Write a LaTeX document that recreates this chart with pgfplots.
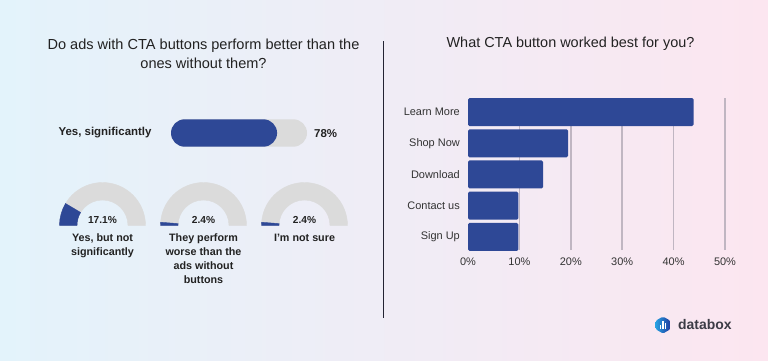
\documentclass[border=0pt]{standalone}
\usepackage{pgfplots}
\pgfplotsset{compat=1.18}
\usepackage{fontspec}
\setmainfont{Liberation Sans}
\definecolor{bgL}{RGB}{227,243,251}
\definecolor{bgR}{RGB}{252,230,240}
\definecolor{barblue}{RGB}{46,72,150}
\definecolor{trackgray}{RGB}{219,219,219}
\definecolor{gridc}{RGB}{192,182,194}
\definecolor{txt}{RGB}{34,34,34}
\definecolor{lbl}{RGB}{51,51,51}
\definecolor{divc}{RGB}{35,35,50}
\definecolor{logoA}{RGB}{40,160,225}
\definecolor{logoB}{RGB}{30,60,160}
\definecolor{logotxt}{RGB}{60,60,70}
\begin{document}
\begin{tikzpicture}
\shade[left color=bgL, right color=bgR] (0bp,0bp) rectangle (768bp,-361bp);
\draw[line width=1bp, divc] (383.5bp,-41bp) -- (383.5bp,-318bp);
% titles
\node[font=\fontsize{14.6}{19.3}\selectfont, color=txt, align=center] at (203.5bp,-53.7bp) {Do ads with CTA buttons perform better than the\\ones without them?};
\node[font=\fontsize{14.5}{19.3}\selectfont, color=txt] at (570.5bp,-43.5bp) {What CTA button worked best for you?};
% progress bar
\begin{axis}[at={(171bp,-133bp)}, anchor=west, scale only axis, width=136bp, height=40bp,
  xmin=0, xmax=100, ymin=-1, ymax=1, hide axis, xbar, bar width=27.4bp, bar shift=0pt, clip=false]
\addplot[fill=trackgray, draw=none, rounded corners=13.7bp] coordinates {(100,0)};
\addplot[fill=barblue, draw=none, rounded corners=13.7bp] coordinates {(78,0)};
\end{axis}
\node[anchor=east, font=\bfseries\fontsize{11.5}{13}\selectfont, color=txt, inner sep=0pt] at (151.7bp,-133bp) {Yes, significantly};
\node[anchor=west, font=\bfseries\fontsize{11.5}{13}\selectfont, color=txt, inner sep=0pt] at (314bp,-133.5bp) {78\%};
% gauges
\begin{axis}[at={(102.5bp,-225.5bp)}, anchor=south west, scale only axis, width=202bp, height=20bp,
  xmin=0, xmax=202, ymin=0, ymax=1, hide axis, clip=false]
\addplot[scatter, only marks, mark=*, mark size=0pt, mark options={draw=none,fill=none},
  point meta=explicit symbolic,
  scatter/@pre marker code/.code={%
    \pgfkeys{/pgf/fpu=false}%
    \pgfmathsetmacro\gang{180-1.8*\pgfplotspointmeta}%
    \fill[trackgray] (-43bp,0bp) arc[start angle=180,end angle=0,radius=43bp] -- (25.5bp,0bp) arc[start angle=0,end angle=180,radius=25.5bp] -- cycle;
    \fill[barblue] (-43bp,0bp) arc[start angle=180,end angle=\gang,radius=43bp] -- (\gang:25.5bp) arc[start angle=\gang,end angle=180,radius=25.5bp] -- cycle;
    \node[font=\bfseries\fontsize{10.2}{11}\selectfont, color=txt, inner sep=0pt] at (0bp,5.5bp) {\pgfplotspointmeta\%};
  },
  scatter/@post marker code/.code={}]
  table[meta=v] {
x y v
0 0 17.1
101 0 2.4
202 0 2.4
};
\end{axis}
\node[anchor=north, align=center, font=\bfseries\fontsize{10.8}{14}\selectfont, color=txt, inner sep=0pt] at (102.5bp,-233.5bp) {Yes, but not\\significantly};
\node[anchor=north, align=center, font=\bfseries\fontsize{10.8}{14}\selectfont, color=txt, inner sep=0pt] at (203.5bp,-233.5bp) {They perform\\worse than the\\ads without\\buttons};
\node[anchor=north, align=center, font=\bfseries\fontsize{10.8}{14}\selectfont, color=txt, inner sep=0pt] at (304.5bp,-233.5bp) {I'm not sure};
% right bar chart
\begin{axis}[at={(468bp,-250bp)}, anchor=south west, scale only axis, width=257bp, height=152bp,
  xmin=0, xmax=50, ymin=-0.42, ymax=4.45, xbar, bar width=28bp, bar shift=0pt,
  axis line style={draw=none}, major tick length=0pt,
  xtick={10,20,30,40,50}, extra x ticks={0},
  extra x tick style={grid=none, xticklabel={\pgfmathprintnumber{\tick}\%}},
  xmajorgrids, grid style={gridc, line width=1.7bp},
  /pgf/number format/assume math mode=true,
  xticklabel={\pgfmathprintnumber{\tick}\%},
  ytick={0,1,2,3,4}, yticklabels={Sign Up,Contact us,Download,Shop Now,Learn More},
  ticklabel style={font=\fontsize{11}{13}\selectfont, color=lbl},
  yticklabel style={anchor=east, inner sep=0pt, xshift=-8bp},
  xticklabel style={anchor=north, inner sep=0pt, yshift=-8bp},
  clip=false]
\addplot[fill=barblue, draw=none, rounded corners=1.5bp] coordinates {(9.8,0) (9.8,1) (14.6,2) (19.5,3) (43.9,4)};
\end{axis}
% logo
\shade[left color=logoA, right color=logoB, rounded corners=1.5bp] (663bp,-316.5bp) -- (670.4bp,-320.75bp) -- (670.4bp,-329.25bp) -- (663bp,-333.5bp) -- (655.6bp,-329.25bp) -- (655.6bp,-320.75bp) -- cycle;
\fill[white] (659.6bp,-329bp) rectangle (661.2bp,-325bp);
\fill[white] (662.2bp,-329bp) rectangle (663.8bp,-321bp);
\fill[white] (664.8bp,-329bp) rectangle (666.4bp,-323bp);
\node[anchor=west, font=\bfseries\fontsize{14}{16}\selectfont, color=logotxt, inner sep=0pt] at (678bp,-325bp) {databox};
\pgfresetboundingbox
\useasboundingbox (0bp,0bp) rectangle (768bp,-361bp);
\end{tikzpicture}
\end{document}
